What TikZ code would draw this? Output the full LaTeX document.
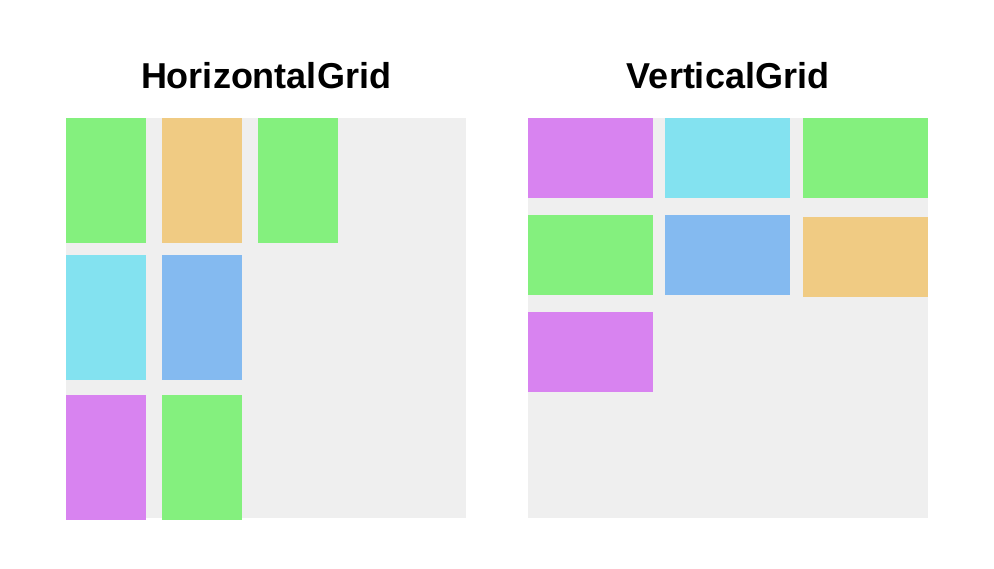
\documentclass[tikz,border=0pt]{standalone}
\usepackage{fontspec}
\setmainfont{Liberation Sans}
\definecolor{cg}{HTML}{84F07E}
\definecolor{co}{HTML}{F0CB83}
\definecolor{cc}{HTML}{83E2F0}
\definecolor{cb}{HTML}{84BAF0}
\definecolor{cp}{HTML}{D883F0}
\definecolor{bg}{HTML}{EFEFEF}
\begin{document}
\begin{tikzpicture}[x=1pt,y=-1pt,
  cell/.style={draw=none},
  title/.style={font=\fontsize{36}{40}\selectfont\bfseries, anchor=center}]
\useasboundingbox (0,0) rectangle (994,569);
\fill[white] (0,0) rectangle (994,569);
\node[title] (t1) at (266,76) {HorizontalGrid};
\node[title] (t2) at (728,76) {VerticalGrid};
\fill[bg] (66,118) rectangle (466,518);
\fill[cg] (66,118) rectangle (146,243);
\fill[co] (162,118) rectangle (242,243);
\fill[cg] (258,118) rectangle (338,243);
\fill[cc] (66,255) rectangle (146,380);
\fill[cb] (162,255) rectangle (242,380);
\fill[cp] (66,395) rectangle (146,520);
\fill[cg] (162,395) rectangle (242,520);
\fill[bg] (528,118) rectangle (928,518);
\fill[cp] (528,118) rectangle (653,198);
\fill[cc] (665,118) rectangle (790,198);
\fill[cg] (803,118) rectangle (928,198);
\fill[cg] (528,215) rectangle (653,295);
\fill[cb] (665,215) rectangle (790,295);
\fill[co] (803,217) rectangle (928,297);
\fill[cp] (528,312) rectangle (653,392);
\end{tikzpicture}
\end{document}
